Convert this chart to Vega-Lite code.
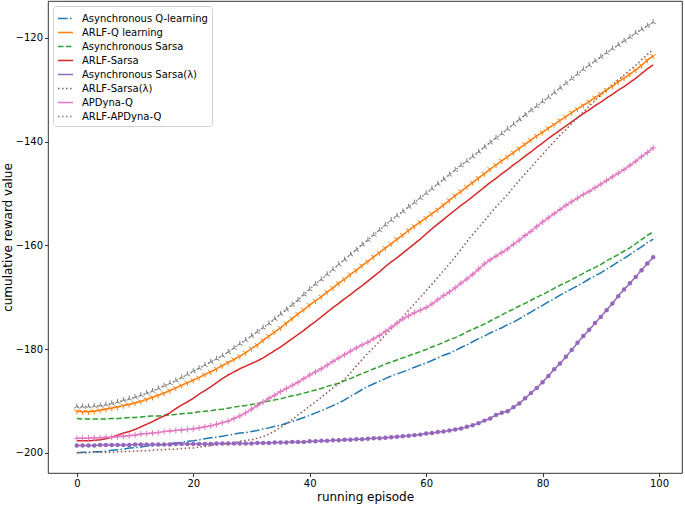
{
"$schema": "https://vega.github.io/schema/vega-lite/v6.json",
"autosize": "none",
"width": 634, "height": 472,
"padding": {"left": 48, "top": 1, "right": 3, "bottom": 33},
"config": {
 "font": "DejaVu Sans",
 "view": {"stroke": "#000", "strokeWidth": 0.8},
 "axis": {"grid": false, "domain": false, "tickColor": "#000", "tickSize": 3.5, "tickWidth": 0.8, "labelColor": "#000", "labelFontSize": 10, "titleFontSize": 12, "titleFontWeight": "normal", "titleColor": "#000", "labelPadding": 2, "labelExpr": "replace(datum.label, '-', '−')"}
},
"data": {"values": [
{"x":0,"aq":-200.0,"rq":-192.0,"as":-193.4,"rs":-197.7,"al":-198.6,"rl":-200.0,"ap":-197.2,"ra":-191.1},
{"x":1,"aq":-199.9,"rq":-192.1,"as":-193.5,"rs":-197.7,"al":-198.6,"rl":-200.0,"ap":-197.2,"ra":-191.1},
{"x":2,"aq":-199.9,"rq":-192.1,"as":-193.5,"rs":-197.7,"al":-198.6,"rl":-200.0,"ap":-197.2,"ra":-191.1},
{"x":3,"aq":-199.8,"rq":-192.0,"as":-193.5,"rs":-197.6,"al":-198.6,"rl":-199.9,"ap":-197.1,"ra":-191.0},
{"x":4,"aq":-199.8,"rq":-191.8,"as":-193.5,"rs":-197.5,"al":-198.5,"rl":-199.9,"ap":-197.1,"ra":-190.9},
{"x":5,"aq":-199.7,"rq":-191.6,"as":-193.5,"rs":-197.3,"al":-198.5,"rl":-199.9,"ap":-197.0,"ra":-190.7},
{"x":6,"aq":-199.5,"rq":-191.4,"as":-193.4,"rs":-197.0,"al":-198.5,"rl":-199.9,"ap":-197.0,"ra":-190.5},
{"x":7,"aq":-199.4,"rq":-191.2,"as":-193.4,"rs":-196.6,"al":-198.5,"rl":-199.8,"ap":-196.9,"ra":-190.2},
{"x":8,"aq":-199.3,"rq":-190.9,"as":-193.3,"rs":-196.2,"al":-198.5,"rl":-199.8,"ap":-196.8,"ra":-189.9},
{"x":9,"aq":-199.1,"rq":-190.7,"as":-193.2,"rs":-195.9,"al":-198.5,"rl":-199.7,"ap":-196.7,"ra":-189.6},
{"x":10,"aq":-199.0,"rq":-190.4,"as":-193.2,"rs":-195.5,"al":-198.4,"rl":-199.7,"ap":-196.6,"ra":-189.3},
{"x":11,"aq":-198.9,"rq":-190.1,"as":-193.1,"rs":-195.0,"al":-198.4,"rl":-199.6,"ap":-196.4,"ra":-188.9},
{"x":12,"aq":-198.7,"rq":-189.7,"as":-193.0,"rs":-194.5,"al":-198.4,"rl":-199.6,"ap":-196.3,"ra":-188.5},
{"x":13,"aq":-198.6,"rq":-189.3,"as":-192.9,"rs":-194.0,"al":-198.4,"rl":-199.5,"ap":-196.2,"ra":-188.1},
{"x":14,"aq":-198.5,"rq":-188.9,"as":-192.9,"rs":-193.4,"al":-198.4,"rl":-199.4,"ap":-196.1,"ra":-187.6},
{"x":15,"aq":-198.4,"rq":-188.5,"as":-192.8,"rs":-192.9,"al":-198.4,"rl":-199.4,"ap":-195.9,"ra":-187.1},
{"x":16,"aq":-198.2,"rq":-188.0,"as":-192.7,"rs":-192.3,"al":-198.4,"rl":-199.3,"ap":-195.8,"ra":-186.6},
{"x":17,"aq":-198.1,"rq":-187.5,"as":-192.6,"rs":-191.5,"al":-198.3,"rl":-199.3,"ap":-195.7,"ra":-186.1},
{"x":18,"aq":-198.0,"rq":-187.0,"as":-192.5,"rs":-190.8,"al":-198.3,"rl":-199.2,"ap":-195.6,"ra":-185.5},
{"x":19,"aq":-197.8,"rq":-186.5,"as":-192.4,"rs":-190.2,"al":-198.3,"rl":-199.1,"ap":-195.5,"ra":-184.9},
{"x":20,"aq":-197.7,"rq":-186.0,"as":-192.3,"rs":-189.5,"al":-198.3,"rl":-199.1,"ap":-195.4,"ra":-184.3},
{"x":21,"aq":-197.5,"rq":-185.5,"as":-192.1,"rs":-188.7,"al":-198.3,"rl":-198.9,"ap":-195.2,"ra":-183.7},
{"x":22,"aq":-197.3,"rq":-184.9,"as":-192.0,"rs":-188.0,"al":-198.3,"rl":-198.8,"ap":-195.0,"ra":-183.1},
{"x":23,"aq":-197.1,"rq":-184.4,"as":-191.9,"rs":-187.3,"al":-198.3,"rl":-198.6,"ap":-194.8,"ra":-182.5},
{"x":24,"aq":-197.0,"rq":-183.8,"as":-191.7,"rs":-186.5,"al":-198.2,"rl":-198.5,"ap":-194.5,"ra":-181.9},
{"x":25,"aq":-196.8,"rq":-183.2,"as":-191.6,"rs":-185.7,"al":-198.2,"rl":-198.3,"ap":-194.2,"ra":-181.3},
{"x":26,"aq":-196.6,"rq":-182.6,"as":-191.4,"rs":-185.0,"al":-198.2,"rl":-198.2,"ap":-193.9,"ra":-180.6},
{"x":27,"aq":-196.4,"rq":-182.0,"as":-191.2,"rs":-184.4,"al":-198.2,"rl":-198.0,"ap":-193.4,"ra":-179.8},
{"x":28,"aq":-196.2,"rq":-181.4,"as":-191.0,"rs":-183.8,"al":-198.2,"rl":-197.8,"ap":-192.9,"ra":-179.0},
{"x":29,"aq":-196.1,"rq":-180.7,"as":-190.9,"rs":-183.3,"al":-198.2,"rl":-197.6,"ap":-192.3,"ra":-178.3},
{"x":30,"aq":-195.9,"rq":-179.9,"as":-190.7,"rs":-182.8,"al":-198.2,"rl":-197.5,"ap":-191.6,"ra":-177.5},
{"x":31,"aq":-195.7,"rq":-179.2,"as":-190.5,"rs":-182.3,"al":-198.1,"rl":-197.2,"ap":-190.9,"ra":-176.7},
{"x":32,"aq":-195.4,"rq":-178.3,"as":-190.3,"rs":-181.7,"al":-198.1,"rl":-196.9,"ap":-190.2,"ra":-175.9},
{"x":33,"aq":-195.2,"rq":-177.5,"as":-190.0,"rs":-181.0,"al":-198.1,"rl":-196.4,"ap":-189.5,"ra":-175.1},
{"x":34,"aq":-194.9,"rq":-176.7,"as":-189.8,"rs":-180.3,"al":-198.0,"rl":-195.8,"ap":-188.9,"ra":-174.2},
{"x":35,"aq":-194.7,"rq":-175.9,"as":-189.6,"rs":-179.6,"al":-198.0,"rl":-195.1,"ap":-188.2,"ra":-173.3},
{"x":36,"aq":-194.3,"rq":-175.0,"as":-189.3,"rs":-178.8,"al":-198.0,"rl":-194.4,"ap":-187.6,"ra":-172.4},
{"x":37,"aq":-194.0,"rq":-174.1,"as":-189.0,"rs":-178.0,"al":-197.9,"rl":-193.6,"ap":-187.0,"ra":-171.5},
{"x":38,"aq":-193.6,"rq":-173.2,"as":-188.8,"rs":-177.2,"al":-197.9,"rl":-192.7,"ap":-186.4,"ra":-170.6},
{"x":39,"aq":-193.2,"rq":-172.4,"as":-188.5,"rs":-176.4,"al":-197.9,"rl":-191.9,"ap":-185.7,"ra":-169.5},
{"x":40,"aq":-192.8,"rq":-171.5,"as":-188.2,"rs":-175.5,"al":-197.8,"rl":-191.0,"ap":-185.0,"ra":-168.5},
{"x":41,"aq":-192.3,"rq":-170.7,"as":-187.9,"rs":-174.7,"al":-197.8,"rl":-190.2,"ap":-184.4,"ra":-167.5},
{"x":42,"aq":-191.9,"rq":-169.9,"as":-187.6,"rs":-173.8,"al":-197.7,"rl":-189.3,"ap":-183.8,"ra":-166.6},
{"x":43,"aq":-191.4,"rq":-169.0,"as":-187.2,"rs":-172.9,"al":-197.7,"rl":-188.4,"ap":-183.1,"ra":-165.6},
{"x":44,"aq":-190.9,"rq":-168.2,"as":-186.9,"rs":-172.0,"al":-197.6,"rl":-187.5,"ap":-182.4,"ra":-164.7},
{"x":45,"aq":-190.4,"rq":-167.3,"as":-186.6,"rs":-171.2,"al":-197.6,"rl":-186.7,"ap":-181.7,"ra":-163.7},
{"x":46,"aq":-189.8,"rq":-166.5,"as":-186.1,"rs":-170.3,"al":-197.5,"rl":-185.8,"ap":-181.1,"ra":-162.8},
{"x":47,"aq":-189.1,"rq":-165.6,"as":-185.7,"rs":-169.5,"al":-197.5,"rl":-184.6,"ap":-180.4,"ra":-161.8},
{"x":48,"aq":-188.5,"rq":-164.8,"as":-185.2,"rs":-168.6,"al":-197.4,"rl":-183.3,"ap":-179.8,"ra":-160.9},
{"x":49,"aq":-187.8,"rq":-163.9,"as":-184.7,"rs":-167.8,"al":-197.4,"rl":-182.0,"ap":-179.2,"ra":-159.9},
{"x":50,"aq":-187.2,"rq":-163.1,"as":-184.3,"rs":-166.9,"al":-197.3,"rl":-180.8,"ap":-178.7,"ra":-159.0},
{"x":51,"aq":-186.7,"rq":-162.2,"as":-183.8,"rs":-166.0,"al":-197.2,"rl":-179.7,"ap":-178.0,"ra":-158.0},
{"x":52,"aq":-186.2,"rq":-161.4,"as":-183.4,"rs":-165.1,"al":-197.2,"rl":-178.5,"ap":-177.4,"ra":-157.1},
{"x":53,"aq":-185.7,"rq":-160.5,"as":-182.9,"rs":-164.1,"al":-197.1,"rl":-177.3,"ap":-176.6,"ra":-156.1},
{"x":54,"aq":-185.2,"rq":-159.7,"as":-182.5,"rs":-163.2,"al":-197.0,"rl":-176.1,"ap":-175.8,"ra":-155.2},
{"x":55,"aq":-184.8,"rq":-158.8,"as":-182.1,"rs":-162.4,"al":-196.9,"rl":-175.0,"ap":-175.0,"ra":-154.3},
{"x":56,"aq":-184.4,"rq":-158.0,"as":-181.7,"rs":-161.5,"al":-196.8,"rl":-173.8,"ap":-174.2,"ra":-153.5},
{"x":57,"aq":-184.0,"rq":-157.1,"as":-181.3,"rs":-160.6,"al":-196.7,"rl":-172.5,"ap":-173.6,"ra":-152.6},
{"x":58,"aq":-183.5,"rq":-156.3,"as":-180.9,"rs":-159.7,"al":-196.6,"rl":-171.3,"ap":-173.0,"ra":-151.8},
{"x":59,"aq":-183.1,"rq":-155.5,"as":-180.5,"rs":-158.8,"al":-196.5,"rl":-170.0,"ap":-172.5,"ra":-150.9},
{"x":60,"aq":-182.7,"rq":-154.7,"as":-180.1,"rs":-157.8,"al":-196.3,"rl":-168.8,"ap":-172.0,"ra":-150.0},
{"x":61,"aq":-182.2,"rq":-153.9,"as":-179.6,"rs":-156.8,"al":-196.2,"rl":-167.5,"ap":-171.3,"ra":-149.1},
{"x":62,"aq":-181.7,"rq":-153.1,"as":-179.2,"rs":-155.9,"al":-196.0,"rl":-166.2,"ap":-170.5,"ra":-148.2},
{"x":63,"aq":-181.2,"rq":-152.2,"as":-178.7,"rs":-155.0,"al":-195.9,"rl":-164.9,"ap":-169.7,"ra":-147.3},
{"x":64,"aq":-180.8,"rq":-151.3,"as":-178.2,"rs":-154.1,"al":-195.7,"rl":-163.6,"ap":-169.0,"ra":-146.4},
{"x":65,"aq":-180.3,"rq":-150.4,"as":-177.8,"rs":-153.2,"al":-195.5,"rl":-162.2,"ap":-168.2,"ra":-145.5},
{"x":66,"aq":-179.7,"rq":-149.6,"as":-177.3,"rs":-152.3,"al":-195.3,"rl":-160.8,"ap":-167.3,"ra":-144.6},
{"x":67,"aq":-179.2,"rq":-148.7,"as":-176.7,"rs":-151.5,"al":-195.0,"rl":-159.3,"ap":-166.5,"ra":-143.8},
{"x":68,"aq":-178.6,"rq":-147.9,"as":-176.2,"rs":-150.6,"al":-194.7,"rl":-157.9,"ap":-165.6,"ra":-142.9},
{"x":69,"aq":-178.0,"rq":-147.0,"as":-175.7,"rs":-149.7,"al":-194.3,"rl":-156.6,"ap":-164.6,"ra":-142.0},
{"x":70,"aq":-177.5,"rq":-146.2,"as":-175.2,"rs":-148.8,"al":-193.8,"rl":-155.3,"ap":-163.6,"ra":-141.1},
{"x":71,"aq":-176.9,"rq":-145.3,"as":-174.6,"rs":-147.9,"al":-193.4,"rl":-153.9,"ap":-162.8,"ra":-140.2},
{"x":72,"aq":-176.4,"rq":-144.5,"as":-174.0,"rs":-147.1,"al":-192.7,"rl":-152.6,"ap":-162.1,"ra":-139.3},
{"x":73,"aq":-175.9,"rq":-143.7,"as":-173.4,"rs":-146.2,"al":-192.3,"rl":-151.4,"ap":-161.4,"ra":-138.5},
{"x":74,"aq":-175.3,"rq":-142.9,"as":-172.8,"rs":-145.4,"al":-192.0,"rl":-150.2,"ap":-160.7,"ra":-137.6},
{"x":75,"aq":-174.8,"rq":-142.1,"as":-172.3,"rs":-144.5,"al":-191.2,"rl":-148.8,"ap":-159.8,"ra":-136.7},
{"x":76,"aq":-174.2,"rq":-141.3,"as":-171.7,"rs":-143.7,"al":-190.5,"rl":-147.5,"ap":-159.0,"ra":-135.8},
{"x":77,"aq":-173.5,"rq":-140.5,"as":-171.2,"rs":-142.8,"al":-189.5,"rl":-146.2,"ap":-158.1,"ra":-134.9},
{"x":78,"aq":-172.9,"rq":-139.7,"as":-170.6,"rs":-142.0,"al":-188.5,"rl":-145.0,"ap":-157.3,"ra":-134.0},
{"x":79,"aq":-172.2,"rq":-138.9,"as":-170.0,"rs":-141.1,"al":-187.5,"rl":-143.7,"ap":-156.4,"ra":-133.2},
{"x":80,"aq":-171.6,"rq":-138.2,"as":-169.5,"rs":-140.3,"al":-186.4,"rl":-142.5,"ap":-155.5,"ra":-132.3},
{"x":81,"aq":-170.9,"rq":-137.4,"as":-168.9,"rs":-139.4,"al":-185.2,"rl":-141.2,"ap":-154.7,"ra":-131.5},
{"x":82,"aq":-170.3,"rq":-136.7,"as":-168.3,"rs":-138.6,"al":-183.9,"rl":-140.0,"ap":-153.9,"ra":-130.6},
{"x":83,"aq":-169.6,"rq":-135.9,"as":-167.7,"rs":-137.8,"al":-182.8,"rl":-138.8,"ap":-153.1,"ra":-129.7},
{"x":84,"aq":-169.0,"rq":-135.2,"as":-167.2,"rs":-137.0,"al":-181.5,"rl":-137.7,"ap":-152.3,"ra":-128.8},
{"x":85,"aq":-168.4,"rq":-134.4,"as":-166.6,"rs":-136.2,"al":-180.2,"rl":-136.5,"ap":-151.6,"ra":-127.9},
{"x":86,"aq":-167.8,"rq":-133.7,"as":-166.0,"rs":-135.4,"al":-178.8,"rl":-135.4,"ap":-150.9,"ra":-127.0},
{"x":87,"aq":-167.2,"rq":-133.0,"as":-165.4,"rs":-134.6,"al":-177.5,"rl":-134.3,"ap":-150.2,"ra":-126.1},
{"x":88,"aq":-166.5,"rq":-132.3,"as":-164.8,"rs":-133.9,"al":-176.3,"rl":-133.2,"ap":-149.6,"ra":-125.3},
{"x":89,"aq":-165.9,"rq":-131.5,"as":-164.3,"rs":-133.1,"al":-175.0,"rl":-132.1,"ap":-148.9,"ra":-124.5},
{"x":90,"aq":-165.3,"rq":-130.8,"as":-163.7,"rs":-132.4,"al":-173.8,"rl":-131.1,"ap":-148.2,"ra":-123.7},
{"x":91,"aq":-164.6,"rq":-130.0,"as":-163.0,"rs":-131.6,"al":-172.5,"rl":-130.1,"ap":-147.5,"ra":-122.9},
{"x":92,"aq":-163.9,"rq":-129.3,"as":-162.4,"rs":-130.9,"al":-171.2,"rl":-129.1,"ap":-146.8,"ra":-122.1},
{"x":93,"aq":-163.2,"rq":-128.5,"as":-161.8,"rs":-130.1,"al":-169.8,"rl":-128.1,"ap":-146.1,"ra":-121.4},
{"x":94,"aq":-162.5,"rq":-127.8,"as":-161.1,"rs":-129.4,"al":-168.5,"rl":-127.2,"ap":-145.4,"ra":-120.6},
{"x":95,"aq":-161.8,"rq":-127.0,"as":-160.5,"rs":-128.6,"al":-167.3,"rl":-126.2,"ap":-144.6,"ra":-119.9},
{"x":96,"aq":-161.0,"rq":-126.2,"as":-159.7,"rs":-127.8,"al":-166.1,"rl":-125.3,"ap":-143.8,"ra":-119.1},
{"x":97,"aq":-160.3,"rq":-125.3,"as":-158.9,"rs":-126.9,"al":-164.8,"rl":-124.2,"ap":-142.9,"ra":-118.4},
{"x":98,"aq":-159.5,"rq":-124.3,"as":-158.1,"rs":-126.0,"al":-163.5,"rl":-123.2,"ap":-142.1,"ra":-117.7},
{"x":99,"aq":-158.8,"rq":-123.5,"as":-157.4,"rs":-125.2,"al":-162.3,"rl":-122.2,"ap":-141.2,"ra":-117.0}
]},
"transform": [{"fold": ["aq","rq","as","rs","al","rl","ap","ra"], "as": ["s","v"]}],
"encoding": {
 "x": {"field": "x", "type": "quantitative", "scale": {"domain": [-4.95, 103.95], "nice": false, "zero": false}, "axis": {"values": [0,20,40,60,80,100], "title": "running episode", "titlePadding": 3}},
 "y": {"field": "v", "type": "quantitative", "scale": {"domain": [-203.9, -112.9], "nice": false, "zero": false}, "axis": {"values": [-200,-180,-160,-140,-120], "title": "cumulative reward value", "titlePadding": 1}}
},
"layer": [
 {"mark": {"type": "line", "strokeWidth": 1.5},
  "encoding": {
   "color": {"field": "s", "type": "nominal",
     "scale": {"domain": ["aq","rq","as","rs","al","rl","ap","ra"], "range": ["#1f77b4","#ff7f0e","#2ca02c","#d62728","#9467bd","#8c564b","#e377c2","#7f7f7f"]},
     "legend": {"title": null, "orient": "top-left", "offset": 5, "padding": 4, "fillColor": "white", "strokeColor": "#d0d0d0", "cornerRadius": 3, "symbolType": "stroke", "symbolSize": 225, "symbolStrokeWidth": 1.5, "labelFontSize": 10, "labelOffset": 8, "rowPadding": -1.2, "labelLimit": 300, "labelColor": "#000",
       "labelExpr": "datum.label=='aq'?'Asynchronous Q-learning':datum.label=='rq'?'ARLF-Q learning':datum.label=='as'?'Asynchronous Sarsa':datum.label=='rs'?'ARLF-Sarsa':datum.label=='al'?'Asynchronous Sarsa(λ)':datum.label=='rl'?'ARLF-Sarsa(λ)':datum.label=='ap'?'APDyna-Q':'ARLF-APDyna-Q'"}},
   "strokeDash": {"field": "s", "type": "nominal",
     "scale": {"domain": ["aq","rq","as","rs","al","rl","ap","ra"], "range": [[9.6,2.4,1.5,2.4],[1,0],[5.5,2.4],[1,0],[1,0],[1.5,2.5],[1,0],[1.5,2.5]]},
     "legend": {"title": null, "orient": "top-left", "offset": 5, "padding": 4, "fillColor": "white", "strokeColor": "#d0d0d0", "cornerRadius": 3, "symbolType": "stroke", "symbolSize": 225, "symbolStrokeWidth": 1.5, "labelFontSize": 10, "labelOffset": 8, "rowPadding": -1.2, "labelLimit": 300, "labelColor": "#000",
       "labelExpr": "datum.label=='aq'?'Asynchronous Q-learning':datum.label=='rq'?'ARLF-Q learning':datum.label=='as'?'Asynchronous Sarsa':datum.label=='rs'?'ARLF-Sarsa':datum.label=='al'?'Asynchronous Sarsa(λ)':datum.label=='rl'?'ARLF-Sarsa(λ)':datum.label=='ap'?'APDyna-Q':'ARLF-APDyna-Q'"}}
  }},
 {"transform": [{"filter": "datum.s=='rq'"}],
  "mark": {"type": "point", "shape": "M0,0L0,1M0,0L-0.866,-0.5M0,0L0.866,-0.5", "filled": false, "stroke": "#ff7f0e", "strokeWidth": 1, "size": 40, "opacity": 1}},
 {"transform": [{"filter": "datum.s=='ra'"}],
  "mark": {"type": "point", "shape": "M0,0L0,-1M0,0L-0.866,0.5M0,0L0.866,0.5", "filled": false, "stroke": "#7f7f7f", "strokeWidth": 1, "size": 40, "opacity": 1}},
 {"transform": [{"filter": "datum.s=='ap'"}],
  "mark": {"type": "point", "shape": "M-1,0L1,0M0,-1L0,1", "filled": false, "stroke": "#e377c2", "strokeWidth": 1, "size": 36, "opacity": 1}},
 {"transform": [{"filter": "datum.s=='al'"}],
  "mark": {"type": "circle", "color": "#9467bd", "size": 20, "opacity": 1}}
]
}
